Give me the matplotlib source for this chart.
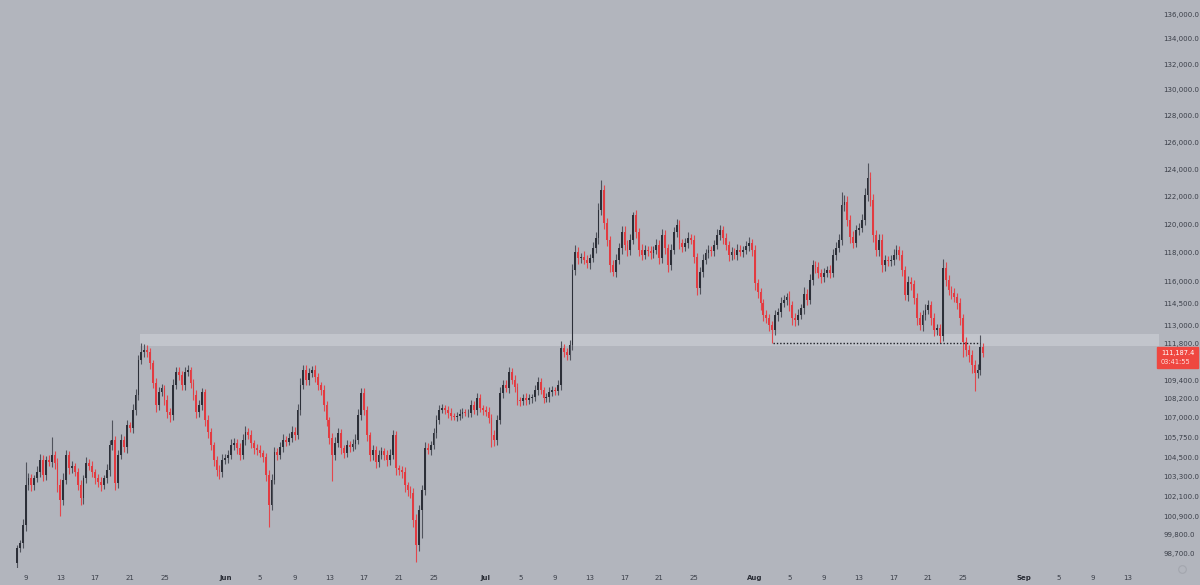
import numpy as np
import matplotlib
matplotlib.use('Agg')
import matplotlib.pyplot as plt
import matplotlib.dates as mdates
from matplotlib.patches import Rectangle
from matplotlib.lines import Line2D
from matplotlib.ticker import NullLocator
from datetime import datetime

# ---------------- data (8-hour candles, BTC, from 8 May 2025) ----------------
first_open_k = 98.12  # thousands USD

close_k = [
    99.00, 99.29, 100.37, 102.78, 103.21, 102.78, 103.21, 103.58, 104.32, 103.40,
    104.32, 104.20, 104.63, 104.14, 102.78, 101.87, 103.09, 104.63, 103.82, 103.95,
    103.58, 102.78, 101.99, 103.21, 104.14, 103.95, 103.58, 103.21, 102.97, 102.78,
    103.21, 103.70, 105.26, 105.57, 102.90, 104.63, 105.57, 105.13, 106.52, 106.30,
    107.47, 108.43, 110.71, 111.24, 111.37, 111.24, 110.51, 109.21, 107.79, 108.62,
    108.88, 108.11, 107.34, 107.15, 109.08, 109.92, 109.73, 109.08, 109.92, 110.05,
    109.21, 108.43, 107.34, 107.79, 108.62, 106.83, 106.07, 105.26, 104.32, 103.70,
    103.58, 104.32, 104.44, 104.63, 105.26, 105.38, 105.07, 104.63, 105.57, 106.07,
    105.88, 105.38, 105.07, 104.94, 104.75, 104.51, 103.40, 101.57, 103.09, 104.82,
    104.63, 105.13, 105.57, 105.44, 105.70, 106.07, 105.88, 107.47, 109.08, 110.05,
    109.40, 109.86, 110.05, 109.60, 109.08, 108.75, 107.79, 106.83, 105.70, 104.63,
    105.38, 106.01, 105.07, 104.75, 105.26, 105.10, 105.30, 105.57, 107.15, 108.56,
    107.47, 105.88, 104.63, 104.94, 104.20, 104.63, 104.88, 104.63, 104.32, 104.63,
    105.88, 103.82, 103.70, 103.58, 102.78, 102.47, 102.30, 100.66, 99.18, 101.26,
    102.47, 105.07, 104.94, 105.26, 106.01, 106.83, 107.47, 107.60, 107.47, 107.28,
    107.09, 107.02, 107.10, 107.21, 107.34, 107.28, 107.30, 107.79, 107.47, 108.24,
    107.60, 107.47, 107.34, 106.96, 105.88, 105.57, 106.83, 108.56, 109.08, 108.88,
    109.92, 109.40, 108.94, 108.11, 108.05, 108.24, 108.11, 108.24, 108.30, 108.75,
    109.27, 108.75, 108.24, 108.30, 108.62, 108.75, 108.70, 109.08, 111.50, 111.24,
    111.04, 111.70, 116.79, 118.05, 117.63, 117.70, 117.49, 117.28, 117.63, 118.33,
    119.04, 121.04, 122.48, 120.10, 118.90, 117.14, 116.65, 117.49, 118.33, 119.46,
    118.55, 118.19, 118.90, 120.68, 119.46, 118.19, 117.84, 118.19, 118.10, 117.98,
    118.19, 118.55, 117.63, 119.25, 118.33, 117.14, 118.19, 119.46, 119.96, 118.69,
    118.40, 118.69, 119.04, 118.90, 117.70, 115.55, 116.65, 117.49, 117.98, 118.19,
    118.10, 118.55, 119.25, 119.60, 119.04, 118.55, 117.84, 118.05, 117.84, 118.19,
    118.05, 118.19, 118.47, 118.69, 118.19, 115.89, 115.27, 114.53, 113.71, 113.51,
    113.04, 112.70, 113.71, 113.91, 114.53, 114.73, 114.93, 114.39, 113.51, 113.37,
    113.71, 114.19, 115.14, 114.73, 116.10, 117.14, 117.00, 116.58, 116.31, 116.58,
    116.79, 116.58, 117.84, 118.33, 118.90, 121.40, 121.62, 120.32, 119.11, 118.69,
    119.60, 119.74, 120.32, 122.12, 123.36, 121.76, 119.25, 118.19, 118.90, 117.14,
    117.49, 117.40, 117.49, 117.84, 118.19, 117.84, 116.79, 115.07, 115.96, 115.80,
    114.87, 113.51, 113.04, 113.71, 114.05, 114.39, 113.51, 112.70, 112.83, 112.30,
    116.93, 116.10, 115.41, 115.21, 114.93, 114.53, 113.51, 111.90, 111.37, 111.04,
    110.38, 109.86, 110.05, 111.57, 111.1874,
]

upper_wick = [
    150, 200, 350, 1400, 300, 250, 200, 350, 400, 300, 250, 300, 1100, 250, 300, 350, 400, 300, 250, 300,
    200, 250, 300, 200, 350, 250, 300, 200, 250, 300, 200, 350, 300, 1260, 250, 300, 350, 250, 300, 200,
    350, 400, 300, 590, 430, 300, 250, 200, 300, 350, 250, 200, 300, 250, 400, 300, 350, 250, 300, 350,
    200, 250, 300, 350, 250, 200, 300, 250, 200, 250, 300, 350, 250, 300, 350, 300, 250, 300, 350, 400,
    250, 300, 200, 250, 300, 200, 250, 300, 350, 300, 250, 300, 350, 250, 300, 350, 300, 400, 450, 350,
    300, 350, 250, 300, 250, 200, 300, 250, 200, 300, 350, 300, 250, 200, 300, 250, 300, 350, 400, 340,
    300, 250, 200, 300, 250, 300, 250, 200, 300, 350, 300, 250, 200, 250, 300, 200, 250, 300, 350, 300,
    300, 350, 300, 250, 300, 350, 300, 250, 200, 250, 300, 200, 250, 300, 250, 200, 250, 300, 250, 350,
    250, 200, 250, 300, 250, 300, 350, 400, 350, 300, 350, 250, 300, 250, 200, 250, 300, 250, 200, 300,
    350, 250, 200, 250, 300, 250, 200, 300, 450, 300, 250, 350, 400, 500, 350, 300, 400, 350, 300, 400,
    450, 500, 730, 400, 350, 300, 350, 400, 350, 450, 400, 350, 400, 220, 350, 300, 400, 350, 300, 350,
    300, 400, 350, 450, 350, 300, 400, 350, 400, 350, 300, 350, 400, 300, 350, 300, 350, 400, 300, 350,
    300, 350, 400, 350, 300, 350, 300, 350, 300, 400, 350, 300, 350, 400, 300, 350, 300, 250, 300, 350,
    300, 250, 350, 300, 400, 350, 300, 450, 300, 350, 400, 300, 450, 350, 400, 350, 300, 350, 300, 350,
    300, 350, 400, 450, 400, 940, 500, 400, 350, 400, 350, 400, 450, 500, 1110, 450, 400, 350, 450, 400,
    350, 300, 350, 400, 350, 300, 350, 300, 400, 350, 300, 350, 400, 350, 400, 350, 300, 350, 300, 300,
    630, 400, 350, 300, 350, 300, 350, 300, 350, 300, 350, 300, 400, 790, 250,
]

lower_wick = [
    320, 250, 300, 350, 300, 350, 300, 250, 300, 350, 300, 250, 300, 350, 400, 970, 300, 250, 350, 300,
    250, 300, 400, 350, 300, 250, 300, 350, 300, 350, 250, 300, 350, 300, 450, 300, 250, 300, 350, 250,
    300, 350, 300, 250, 300, 350, 400, 350, 450, 300, 250, 350, 400, 450, 300, 250, 300, 350, 300, 250,
    350, 300, 400, 300, 350, 400, 350, 300, 400, 350, 450, 300, 250, 300, 250, 300, 350, 300, 250, 300,
    250, 300, 350, 300, 250, 300, 400, 1320, 300, 250, 300, 250, 300, 250, 200, 250, 300, 250, 300, 250,
    350, 300, 250, 300, 350, 300, 400, 350, 400, 1600, 300, 250, 350, 300, 250, 300, 250, 300, 250, 300,
    300, 350, 400, 300, 350, 300, 250, 300, 350, 300, 250, 400, 300, 350, 400, 350, 300, 400, 1000, 350,
    1660, 300, 250, 300, 250, 300, 250, 200, 250, 300, 250, 200, 250, 300, 250, 200, 250, 300, 250, 300,
    250, 300, 250, 300, 750, 350, 300, 250, 300, 250, 300, 250, 300, 350, 300, 250, 300, 250, 300, 250,
    300, 250, 300, 250, 300, 250, 300, 250, 300, 350, 300, 350, 300, 350, 400, 350, 300, 350, 400, 300,
    350, 400, 350, 400, 450, 500, 250, 350, 300, 400, 350, 400, 350, 300, 400, 450, 350, 300, 350, 400,
    350, 300, 400, 350, 450, 500, 350, 300, 350, 400, 350, 300, 350, 300, 400, 480, 400, 350, 300, 350,
    300, 350, 300, 350, 400, 350, 400, 350, 300, 350, 300, 350, 300, 350, 400, 450, 400, 450, 400, 350,
    400, 840, 350, 400, 350, 300, 350, 400, 450, 400, 350, 300, 400, 350, 300, 350, 400, 350, 400, 350,
    300, 350, 300, 350, 300, 350, 400, 450, 400, 350, 300, 350, 300, 350, 400, 450, 500, 450, 400, 500,
    400, 350, 300, 350, 300, 350, 400, 340, 400, 350, 400, 450, 340, 400, 350, 300, 450, 400, 350, 440,
    300, 400, 350, 400, 350, 400, 450, 1000, 400, 450, 500, 1160, 350, 300, 250,
]

# visible price-scale labels (110,600 is covered by the last-price tag in the reference)
y_ticks = [136000, 134000, 132000, 130000, 128000, 126000, 124000, 122000, 120000,
           118000, 116000, 114500, 113000, 111800, 109400, 108200, 107000,
           105750, 104500, 103300, 102100, 100900, 99800, 98700]

x_tick_dates = ["2025-05-09", "2025-05-13", "2025-05-17", "2025-05-21", "2025-05-25",
                "2025-06-01", "2025-06-05", "2025-06-09", "2025-06-13", "2025-06-17",
                "2025-06-21", "2025-06-25", "2025-07-01", "2025-07-05", "2025-07-09",
                "2025-07-13", "2025-07-17", "2025-07-21", "2025-07-25", "2025-08-01",
                "2025-08-05", "2025-08-09", "2025-08-13", "2025-08-17", "2025-08-21",
                "2025-08-25", "2025-09-01", "2025-09-05", "2025-09-09", "2025-09-13"]
x_tick_labels = ["9", "13", "17", "21", "25", "Jun", "5", "9", "13", "17", "21", "25",
                 "Jul", "5", "9", "13", "17", "21", "25", "Aug", "5", "9", "13", "17",
                 "21", "25", "Sep", "5", "9", "13"]

band_low, band_high = 111650, 112450
support_level = 111860
last_price_text = "111,187.4"
countdown_text = "03:41:55"

# ---------------- styling ----------------
BG = '#b2b5bd'
BAND = '#c2c5cc'
UP_BODY = '#2c2f38'
UP_WICK = '#50535c'
DN_BODY = '#e23b41'
DN_WICK = '#e4464c'
TXT = '#3a3e48'

plt.rcParams['font.family'] = ['DejaVu Sans']

n = min(len(close_k), len(upper_wick), len(lower_wick))
close = np.array(close_k[:n]) * 1000.0
opens = np.concatenate([[first_open_k * 1000.0], close[:-1]])
up_w = np.array(upper_wick[:n], dtype=float)
lo_w = np.array(lower_wick[:n], dtype=float)
high = np.maximum(opens, close) + up_w
low = np.minimum(opens, close) - lo_w

start = mdates.date2num(datetime(2025, 5, 8))
t = start + np.arange(n) / 3.0  # 8-hour candle slots

rising = close >= opens
body_col = np.where(rising, UP_BODY, DN_BODY)
wick_col = np.where(rising, UP_WICK, DN_WICK)

fig = plt.figure(figsize=(12, 5.85), dpi=100, facecolor=BG)
ax = fig.add_axes([0, 17 / 585, 1158 / 1200, 568 / 585])
ax.set_facecolor(BG)
ax.set_yscale('log')
ax.set_ylim(97831, 137137)
may9 = mdates.date2num(datetime(2025, 5, 9))
ax.set_xlim(may9 - 2.949, may9 + 130.46)

# band & dotted support line
band_start = mdates.date2num(datetime(2025, 5, 22, 4))
ax.fill_between([band_start, may9 + 131], band_low, band_high, color=BAND, lw=0, zorder=0.5)
ax.hlines(support_level, mdates.date2num(datetime(2025, 8, 3, 2)),
          mdates.date2num(datetime(2025, 8, 26, 22)),
          colors='#1c1e25', linestyles=(0, (1, 1.4)), linewidth=1.0, zorder=3)

# candles
ax.vlines(t, low, high, colors=wick_col, linewidth=0.8, zorder=1)
body_h = np.maximum(np.abs(close - opens), 25)
ax.bar(t, body_h, bottom=np.minimum(opens, close), width=0.21,
       color=body_col, linewidth=0, zorder=2)

for s in ax.spines.values():
    s.set_visible(False)

ax.yaxis.tick_right()
ax.yaxis.set_minor_locator(NullLocator())
ax.set_yticks(y_ticks)
ax.set_yticklabels([f"{v:,.1f}" for v in y_ticks])
ax.tick_params(axis='y', length=0, pad=4, labelsize=5, labelcolor=TXT)

xt = [mdates.date2num(datetime.strptime(d, "%Y-%m-%d")) for d in x_tick_dates]
ax.set_xticks(xt)
ax.set_xticklabels(x_tick_labels)
ax.xaxis.set_minor_locator(NullLocator())
ax.tick_params(axis='x', length=0, pad=5, labelsize=5, labelcolor=TXT)
for lab in ax.get_xticklabels():
    if lab.get_text() in ("Jun", "Jul", "Aug", "Sep"):
        lab.set_fontweight('bold')
        lab.set_color('#2a2d36')

# last-price box
fig.patches.append(Rectangle((1157 / 1200, 1 - 368 / 585), 41 / 1200, 21 / 585,
                             transform=fig.transFigure, color='#ef4740', zorder=5))
fig.text(1161 / 1200, 1 - 352.5 / 585, last_price_text, fontsize=4.8, color='white',
         va='center', ha='left', zorder=6)
fig.text(1161 / 1200, 1 - 362.5 / 585, countdown_text, fontsize=4.8, color='#ffe0dc',
         va='center', ha='left', zorder=6)

# small settings icon bottom right
fig.add_artist(Line2D([1182 / 1200], [1 - 569 / 585], marker='o', markersize=5.5,
                      mfc='none', mec='#a3a6ae', mew=0.8, transform=fig.transFigure))

fig.savefig('out.png', dpi=100, facecolor=BG)
